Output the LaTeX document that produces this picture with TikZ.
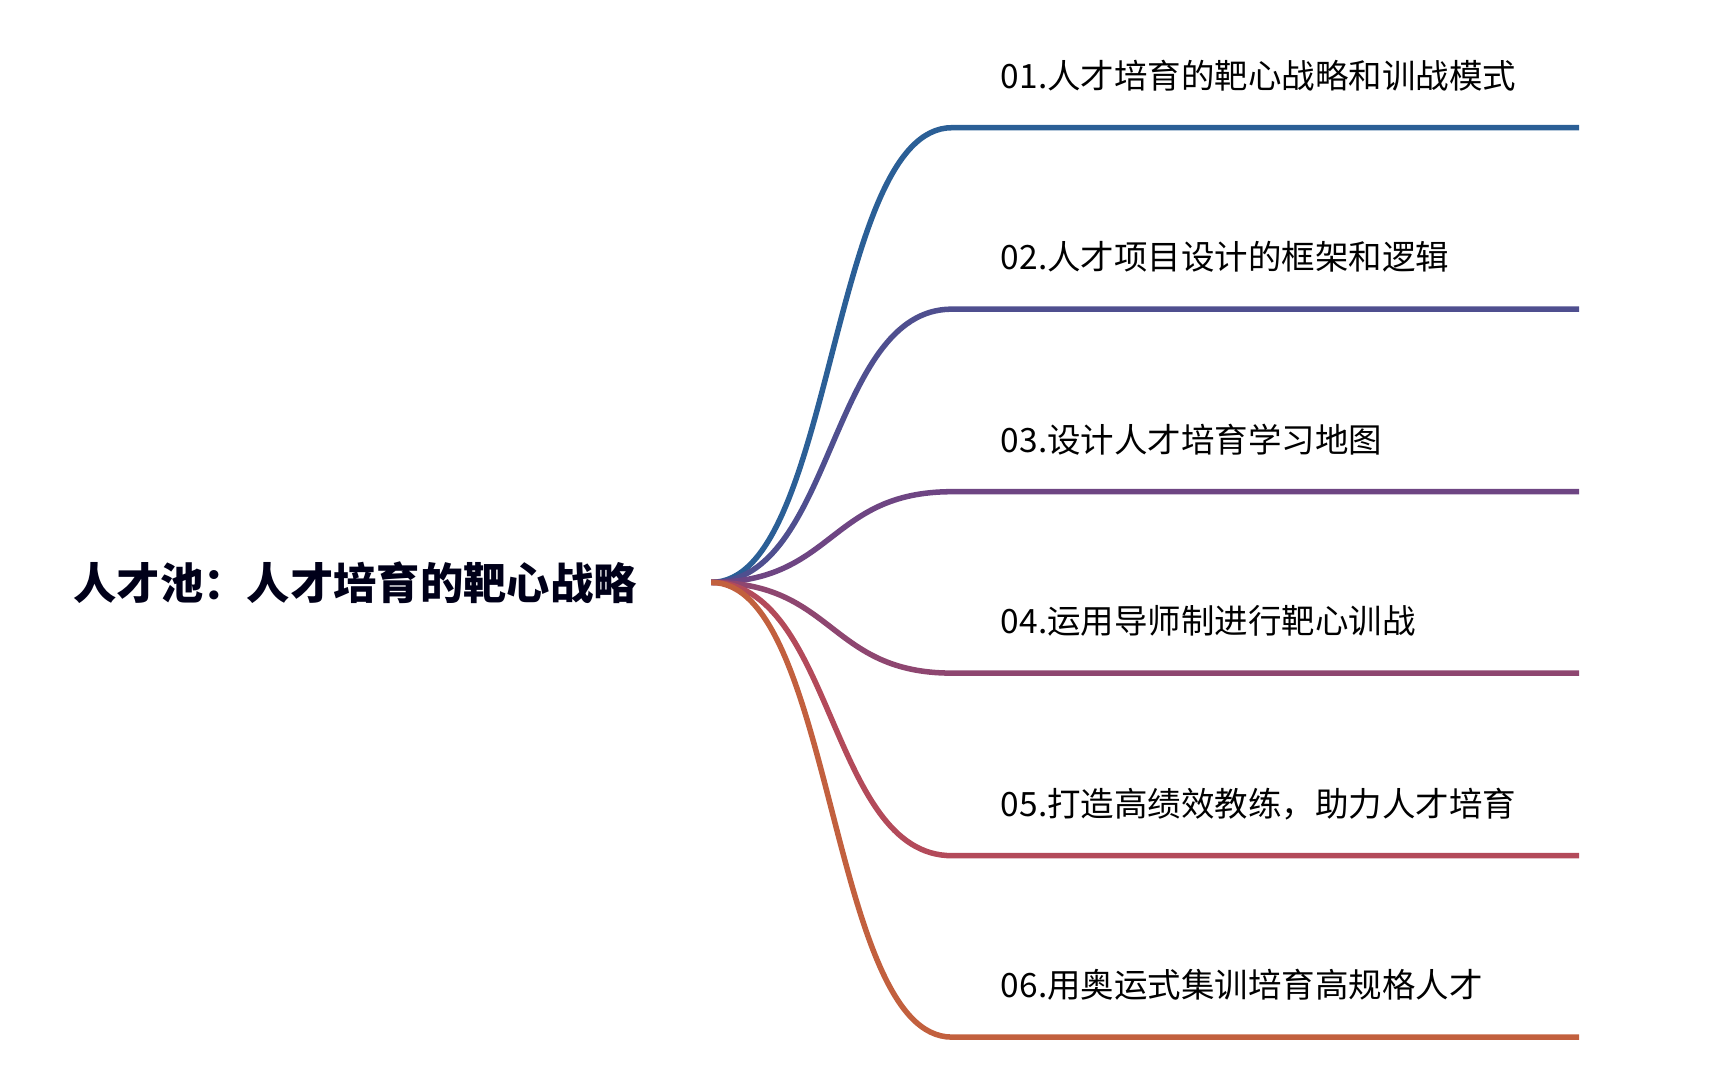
\documentclass[tikz,border=0pt]{standalone}
\usepackage{fontspec}
\setmainfont{Noto Sans CJK SC}
\usetikzlibrary{positioning}
\definecolor{cA}{HTML}{2B5F96}
\definecolor{cB}{HTML}{4F4F8F}
\definecolor{cC}{HTML}{6E4583}
\definecolor{cD}{HTML}{8E4670}
\definecolor{cE}{HTML}{B34A5A}
\definecolor{cF}{HTML}{C2603E}
\begin{document}
\begin{tikzpicture}
    [
      x=0.01cm, y=-0.01cm,
      branch/.style=
        {
          line width=1.4pt,
        },
      topic/.style=
        {
          anchor=base west,
          inner sep=0pt,
          font=\fontsize{8.5pt}{10pt}\selectfont,
        },
    ]
    \useasboundingbox (0,0) rectangle (1550,975);
    \node[anchor=west, inner sep=0pt, text=black!90!blue,
          font=\fontsize{11pt}{13pt}\selectfont\bfseries]
          (root) at (65,520) {人才池：人才培育的靶心战略};
    \coordinate (hub) at (635,520);
    \foreach \name/\y/\col/\txt in
      {
        a/114/cA/01.人才培育的靶心战略和训战模式,
        b/276/cB/02.人才项目设计的框架和逻辑,
        c/439/cC/03.设计人才培育学习地图,
        d/601/cD/04.运用导师制进行靶心训战,
        e/764/cE/05.打造高绩效教练，助力人才培育,
        f/926/cF/06.用奥运式集训培育高规格人才%
      }
      {
        \coordinate (\name start) at (850,\y);
        \coordinate (\name end) at (1410,\y);
        \node[topic] (\name) at (893,\y-35) {\txt};
        \draw[branch, draw=\col]
          (hub) .. controls +(110,0) and +(-110,0) .. (\name start)
          -- (\name end);
      }
\end{tikzpicture}
\end{document}
